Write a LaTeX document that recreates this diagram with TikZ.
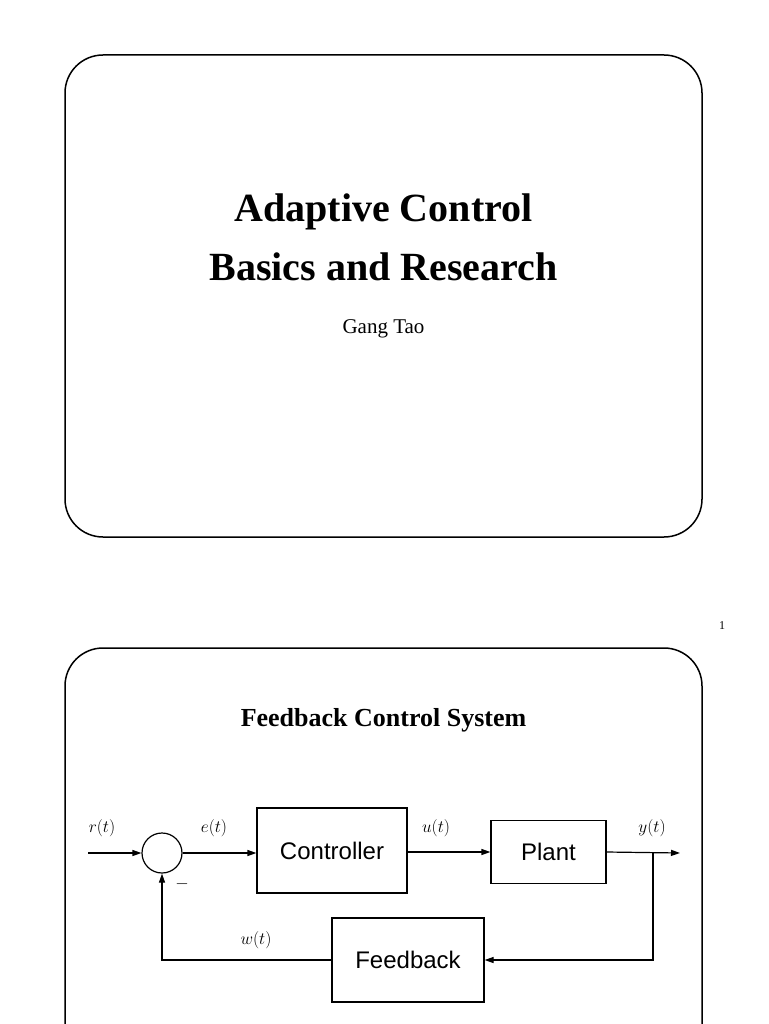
\documentclass[tikz,border=0pt]{standalone}
\usepackage{fontspec}
\setmainfont{Liberation Serif}
\setsansfont{Liberation Sans}
\usetikzlibrary{arrows.meta}
\begin{document}
\begin{tikzpicture}[x=1pt,y=-1pt,
  frame/.style={line width=1.5pt,rounded corners=38pt},
  blk/.style={draw,line width=1.2pt,inner sep=0pt,font=\sffamily\fontsize{24}{28}\selectfont},
  sig/.style={line width=1.2pt,-{Triangle[length=9pt,width=6pt]}},
  lab/.style={font=\fontsize{18}{20}\selectfont}]
\useasboundingbox (0,0) rectangle (768,1024);
\draw[frame] (65,537) -- (65,55) -- (702,55) -- (702,537) -- cycle;
\draw[frame] (65,1060) -- (65,648) -- (702,648) -- (702,1060);
\node (t1) at (383.5,212) {\bfseries\fontsize{40}{44}\selectfont Adaptive Control};
\node (t2) at (383.5,267) {\bfseries\fontsize{40}{44}\selectfont Basics and Research};
\node (au) at (383.5,329) {\fontsize{21}{24}\selectfont Gang Tao};
\node (pg) at (722,626) {\fontsize{12}{14}\selectfont 1};
\node (t3) at (383.5,720) {\bfseries\fontsize{26}{30}\selectfont Feedback Control System};
\node[draw,circle,line width=1.2pt,minimum size=40pt,inner sep=0pt] (sum) at (162,853) {};
\node[blk,minimum width=150pt,minimum height=85pt] (ctl) at (332,850.5) {Controller};
\node[blk,minimum width=115pt,minimum height=63pt] (pl) at (548.5,852) {Plant};
\node[blk,minimum width=152pt,minimum height=84pt] (fb) at (408,960) {Feedback};
\coordinate (in) at (88,853);
\coordinate (out) at (680,853);
\coordinate (br) at (653,853);
\coordinate (br2) at (653,960);
\coordinate (bl) at (162,960);
\draw[sig] (in) -- (sum.west);
\draw[sig] (sum.east) -- (ctl.west|-sum);
\draw[sig] (ctl.east|-pl) -- (pl.west);
\draw[sig] (pl.east) -- (out);
\draw[sig] (br) -- (br2) -- (fb.east);
\draw[sig] (fb.west) -- (bl) -- (sum.south);
\node[lab] (lr) at (102,828) {$r(t)$};
\node[lab] (le) at (214,828) {$e(t)$};
\node[lab] (lu) at (436,828) {$u(t)$};
\node[lab] (ly) at (652,828) {$y(t)$};
\node[lab] (lw) at (256,940) {$w(t)$};
\node[lab] (lm) at (182,884) {$-$};
\end{tikzpicture}
\end{document}
